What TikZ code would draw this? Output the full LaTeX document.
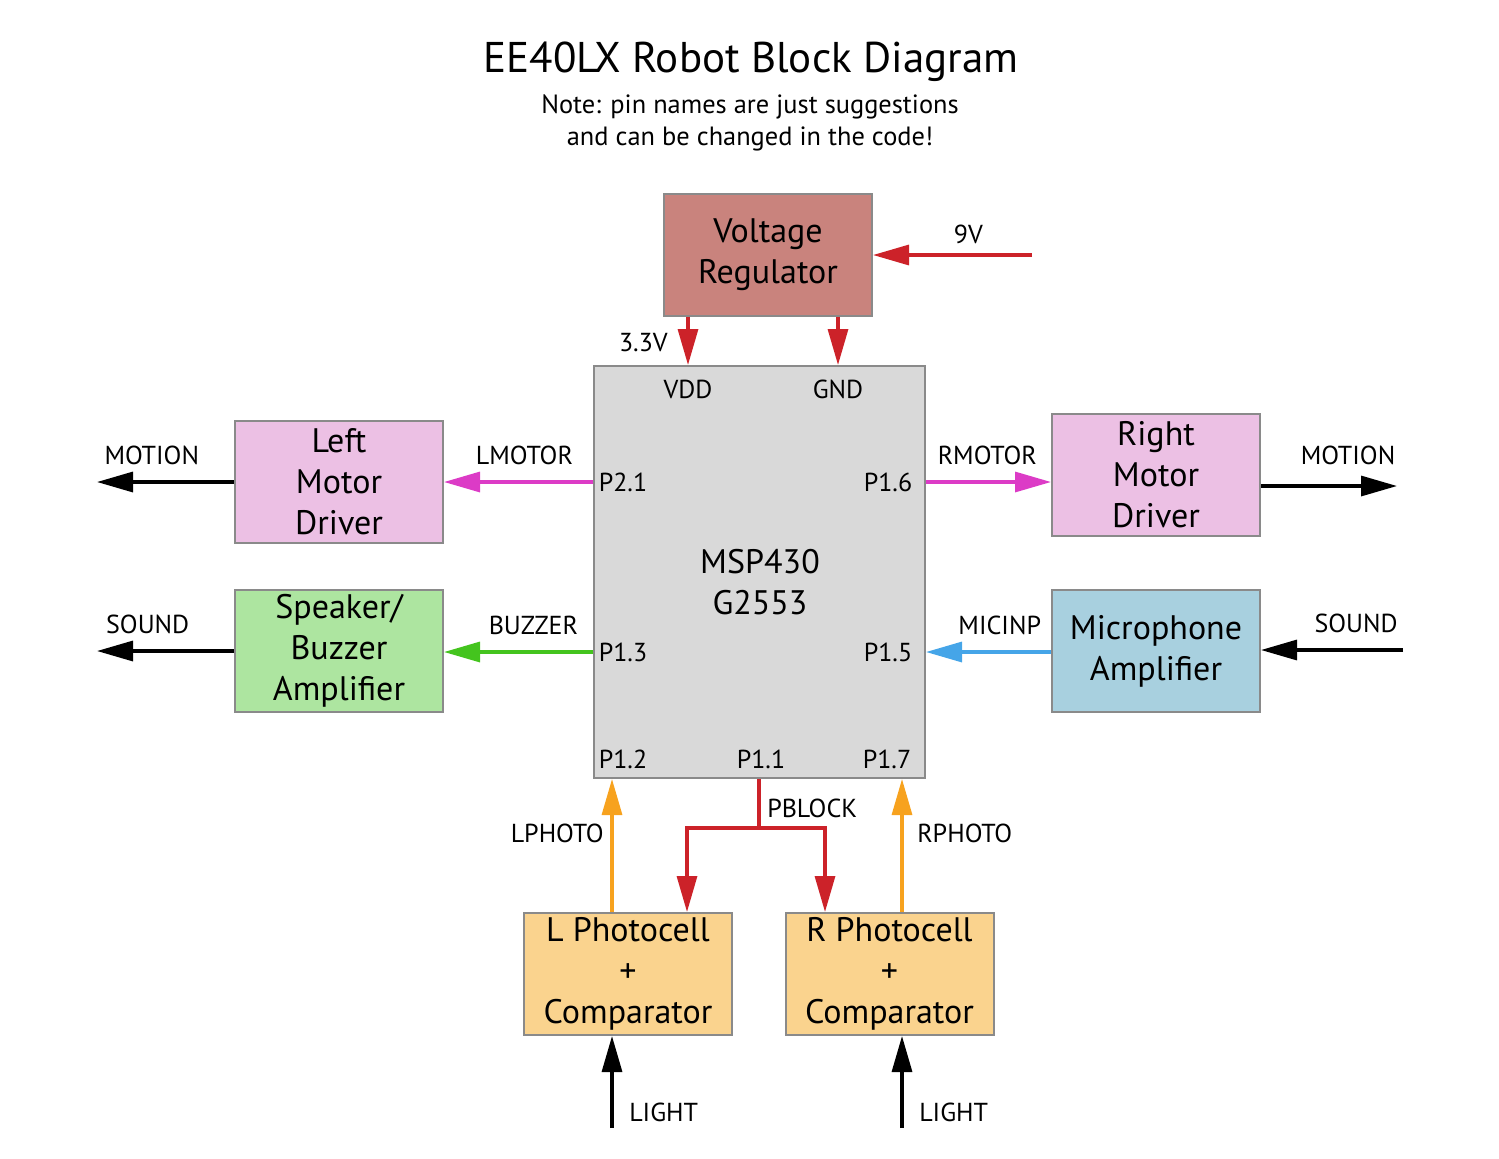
\documentclass[tikz,border=0pt]{standalone}
\usepackage{fontspec}
\setmainfont{PT Sans}
\usepackage{xcolor}
\usepackage{tikz}
\usetikzlibrary{arrows.meta, positioning}

\definecolor{boxgray}{HTML}{8A8A8A}
\definecolor{regfill}{HTML}{C9837D}
\definecolor{mspfill}{HTML}{D9D9D9}
\definecolor{motorfill}{HTML}{ECC0E4}
\definecolor{spkfill}{HTML}{ADE5A0}
\definecolor{micfill}{HTML}{A8D0DF}
\definecolor{photofill}{HTML}{FAD38E}
\definecolor{pwrred}{HTML}{CC2229}
\definecolor{motormag}{HTML}{DC3BC6}
\definecolor{buzzgreen}{HTML}{44C41E}
\definecolor{micblue}{HTML}{45A5E8}
\definecolor{photoorange}{HTML}{F7A21E}

\begin{document}
\begin{tikzpicture}[
  x=0.5pt, y=-0.5pt,
  box/.style={draw=boxgray, line width=1pt, minimum width=104pt, minimum height=61pt, inner sep=0pt, align=center, font=\fontsize{17}{20.5}\selectfont},
  arrow/.style={-{Triangle[length=18pt, width=10pt]}, line width=1.6pt},
  tag/.style={font=\fontsize{13}{15}\selectfont, text=black},
  pin/.style={font=\fontsize{13}{15}\selectfont},
]
\useasboundingbox (0,0) rectangle (1499,1158);

% --- Title
\node[font=\fontsize{21.5}{26}\selectfont] (title) at (751,62) {EE40LX Robot Block Diagram};
\node[font=\fontsize{13.2}{16}\selectfont, align=center] (note) at (750,123)
  {Note: pin names are just suggestions\\and can be changed in the code!};

% --- Blocks
\node[box, fill=regfill] (vreg) at (768,254.5) {Voltage\\Regulator};
\node[box, fill=mspfill, minimum width=165.5pt, minimum height=206pt] (msp) at (759.5,572) {};
\node[font=\fontsize{17}{20.5}\selectfont, align=center] (chip) at (760,582) {MSP430\\G2553};
\node[box, fill=motorfill] (lmd) at (339,482) {Left\\Motor\\Driver};
\node[box, fill=spkfill]   (spk) at (339,651) {Speaker/\\Buzzer\\Amplifier};
\node[box, fill=motorfill] (rmd) at (1156,475) {Right\\Motor\\Driver};
\node[box, fill=micfill]   (mic) at (1156,651) {Microphone\\Amplifier};
\node[box, fill=photofill] (lpc) at (628,974) {L Photocell\\+\\Comparator};
\node[box, fill=photofill] (rpc) at (889.5,974) {R Photocell\\+\\Comparator};

% --- Pins
\node[pin] (vdd) at (688,389) {VDD};
\node[pin] (gnd) at (838,389) {GND};
\node[pin] (p21) at (623,482) {P2.1};
\node[pin] (p13) at (623,652) {P1.3};
\node[pin] (p16) at (888,482) {P1.6};
\node[pin] (p15) at (888,652) {P1.5};
\node[pin] (p12) at (623,759) {P1.2};
\node[pin] (p11) at (761,759) {P1.1};
\node[pin] (p17) at (887,759) {P1.7};

% --- Free ends
\coordinate (vin)  at (1032,255);
\coordinate (motl) at (97,482);
\coordinate (sndl) at (97,651);
\coordinate (motr) at (1397,486);
\coordinate (sndr) at (1403,650);
\coordinate (lgtl) at (612,1128);
\coordinate (lgtr) at (902,1128);
\coordinate (split) at (759,828);
\coordinate (pbl) at (687,828);
\coordinate (pbr) at (825,828);

% --- Power
\draw[arrow, pwrred] (vin) -- node[tag, above=0.5mm, pos=0.4] {9V} (vreg.east |- vin);
\draw[arrow, pwrred] (vreg.south -| vdd) -- node[tag, left=6pt, pos=0.54] {3.3V} (msp.north -| vdd);
\draw[arrow, pwrred] (vreg.south -| gnd) -- (msp.north -| gnd);

% --- Left side
\draw[arrow, motormag] (msp.west |- p21) -- node[tag, above=1.5mm, pos=0.46] {LMOTOR} (lmd.east |- p21);
\draw[arrow] (lmd.west) -- node[tag, above=1.5mm, pos=0.6] {MOTION} (motl);
\draw[arrow, buzzgreen] (msp.west |- p13) -- node[tag, above=1.5mm, pos=0.4] {BUZZER} (spk.east |- p13);
\draw[arrow] (spk.west) -- node[tag, above=1.5mm, pos=0.63] {SOUND} (sndl);

% --- Right side
\draw[arrow, motormag] (msp.east |- p16) -- node[tag, above=1.5mm, pos=0.49] {RMOTOR} (rmd.west |- p16);
\draw[arrow] (rmd.east |- motr) -- node[tag, above=6.7pt, pos=0.64] {MOTION} (motr);
\draw[arrow, micblue] (mic.west |- p15) -- node[tag, above=1.5mm, pos=0.41] {MICINP} (msp.east |- p15);
\draw[arrow] (sndr) -- node[tag, above=1.5mm, pos=0.33] {SOUND} (mic.east |- sndr);

% --- Photocells
\draw[arrow, photoorange] (lpc.north -| lgtl) -- node[tag, left, pos=0.59] {LPHOTO} (msp.south -| lgtl);
\draw[arrow, photoorange] (rpc.north -| lgtr) -- node[tag, right=3.5pt, pos=0.59] {RPHOTO} (msp.south -| lgtr);
\draw[arrow] (lgtl) -- node[tag, right=4.5pt, pos=0.17] {LIGHT} (lpc.south -| lgtl);
\draw[arrow] (lgtr) -- node[tag, right=4.5pt, pos=0.17] {LIGHT} (rpc.south -| lgtr);

% --- Photocell block signal
\draw[pwrred, line width=1.6pt] (msp.south -| split) -- node[tag, right, pos=0.6] {PBLOCK} (split);
\draw[arrow, pwrred] (split) -| (lpc.north -| pbl);
\draw[arrow, pwrred] (split) -| (rpc.north -| pbr);

\end{tikzpicture}
\end{document}
